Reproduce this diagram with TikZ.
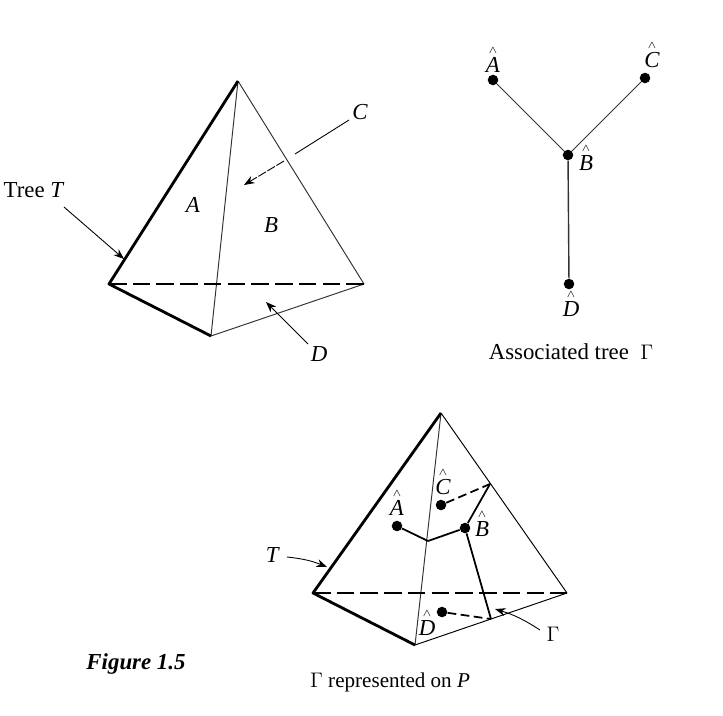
\documentclass[tikz,border=0pt]{standalone}
\usepackage{amsmath}
\usepackage{fontspec}
\setmainfont{Liberation Serif}
\usetikzlibrary{arrows.meta}
\newcommand{\hatlab}[1]{$\overset{\scriptscriptstyle\wedge}{\text{\textit{#1}}}$}
\tikzset{
	edgeT/.style={line width=1.6pt},
	edgeN/.style={line width=0.55pt,black!80},
	edgeH/.style={line width=1.6pt,dash pattern=on 10pt off 3.5pt},
	edgeG/.style={line width=1pt},
	edgeD/.style={line width=1pt,dash pattern=on 5pt off 2.5pt},
	pointer/.style={line width=0.5pt,-{Stealth[length=6pt,width=4.5pt]}},
	dot/.style={circle,fill=black,inner sep=0pt,minimum size=6pt},
	lab/.style={font=\fontsize{13}{15}\selectfont,inner sep=0pt}
}
\begin{document}
\begin{tikzpicture}[x=0.2mm,y=-0.2mm]
	\useasboundingbox (0,0) rectangle (723,715);
	
	\coordinate(Top) at (238,81);
	\coordinate(Left) at (109,284);
	\coordinate(Right) at (364,284);
	\coordinate(Bot) at (211,336);
	\draw[edgeN]  (Top)--(Bot);
	\draw[edgeN]  (Top)--(Right);
	\draw[edgeN]  (Right)--(Bot);
	\draw[edgeT,line join=round]  (Top)--(Left)--(Bot);
	\draw[edgeH]  (Left)--(Right);
	
	\node[lab](TreeT) at (34,190){Tree \textit{T}};
	\node[lab](A) at (193,205){\textit{A}};
	\node[lab](B) at (271,225){\textit{B}};
	\node[lab](C) at (360,112){\textit{C}};
	\node[lab](D) at (319,354){\textit{D}};
	
	\coordinate(TreeS) at (64,207);
	\coordinate(TreeE) at (124,259);
	\coordinate(CS) at (349,120);
	\coordinate(CM) at (295,154);
	\coordinate(CN) at (284,161);
	\coordinate(CE) at (244,185);
	\coordinate(DS) at (308,344);
	\coordinate(DE) at (266,302);
	\draw[pointer]  (TreeS)--(TreeE);
	\draw[line width=0.5pt]  (CS)--(CM);
	\draw[pointer,dash pattern=on 5pt off 1pt]  (CN)--(CE);
	\draw[pointer]  (DS)--(DE);
	
	\node[dot](TA) at (493,80){};
	\node[dot](TC) at (645,78){};
	\node[dot](TB) at (568,155){};
	\node[dot](TD) at (569,284){};
	\draw[edgeN]  (TA)--(TB);
	\draw[edgeN]  (TC)--(TB);
	\draw[edgeN,line width=0.8pt]  (TB)--(TD);
	
	\node[lab](TAl) at (493,59){\hatlab{A}};
	\node[lab](TCl) at (652,54){\hatlab{C}};
	\node[lab](TBl) at (586,157){\hatlab{B}};
	\node[lab](TDl) at (571,303){\hatlab{D}};
	\node[lab](Assoc) at (571,352){Associated tree~~$\Gamma$};
	
	\coordinate(PTop) at (441,413);
	\coordinate(PLeft) at (313,593);
	\coordinate(PRight) at (567,593);
	\coordinate(PBot) at (415,645);
	\draw[edgeN]  (PTop)--(PBot);
	\draw[edgeN,black]  (PTop)--(PRight);
	\draw[edgeN,black]  (PRight)--(PBot);
	\draw[edgeT,line join=round]  (PTop)--(PLeft)--(PBot);
	\draw[edgeH]  (PLeft)--(PRight);
	
	\node[dot](PA) at (397,526){};
	\node[dot](PC) at (441,505){};
	\node[dot](PB) at (465,528){};
	\node[dot](PD) at (442,612){};
	\coordinate(PJ) at (428,541);
	\coordinate(PU) at (490,484);
	\coordinate(PL) at (491,619);
	\draw[edgeG]  (PA)--(PJ);
	\draw[edgeG]  (PJ)--(PB);
	\draw[edgeG]  (PB)--(PU);
	\draw[edgeG]  (PB)--(PL);
	\draw[edgeD]  (PC)--(PU);
	\draw[edgeD]  (PD)--(PL);
	
	\node[lab](PAl) at (397,502){\hatlab{A}};
	\node[lab](PCl) at (443,481){\hatlab{C}};
	\node[lab](PBl) at (482,523){\hatlab{B}};
	\node[lab](PDl) at (427,622){\hatlab{D}};
	\node[lab](PT) at (273,555){\textit{T}};
	\node[lab](PG) at (553,634){$\Gamma$};
	
	\coordinate(PTS) at (287,557);
	\coordinate(PTE) at (327,567);
	\coordinate(PGS) at (540,630);
	\coordinate(PGE) at (495,609);
	\draw[pointer]  (PTS) to[bend left=8] (PTE);
	\draw[pointer]  (PGS) to[bend right=8] (PGE);
	
	\node[lab,font=\fontsize{12}{14}\selectfont](Rep) at (390,682){$\Gamma$ represented on \textit{P}};
	\node[lab,font=\fontsize{13}{15}\selectfont\bfseries\itshape](Fig) at (136,664){Figure 1.5};
\end{tikzpicture}
\end{document}
